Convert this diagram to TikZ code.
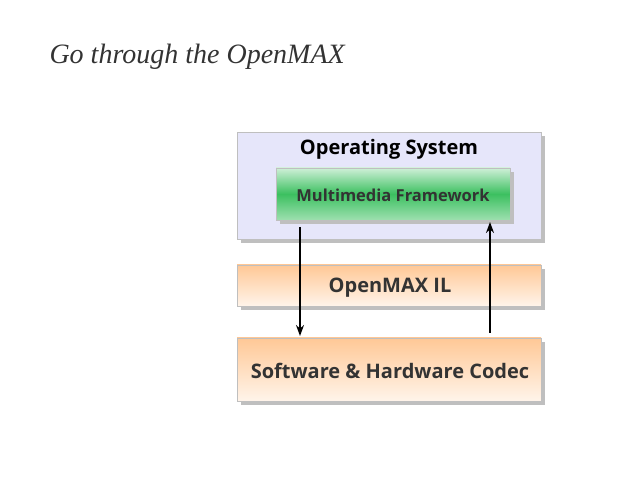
\documentclass[tikz,border=0pt]{standalone}
\usepackage{fontspec}
\setmainfont{Liberation Serif}
\newfontfamily\boxfont{Open Sans}
\usetikzlibrary{arrows.meta}
\definecolor{osfill}{HTML}{E6E6FA}
\definecolor{grn}{HTML}{3CC060}
\definecolor{org}{HTML}{FFC896}
\begin{document}
\begin{tikzpicture}[x=1pt,y=-1pt,
  box/.style={draw=black!25,line width=0.6pt},
  shadow/.style={fill=black!25,draw=none},
  lbl/.style={text=black!80},
  arr/.style={line width=1.6pt,-{Stealth[length=11pt,width=8pt]}}]
\useasboundingbox (0,0) rectangle (638,478);
\node[anchor=base west,font=\itshape\fontsize{28}{32}\selectfont,text=black!80] (title) at (46,64) {Go through the OpenMAX};
% OS
\fill[shadow] (241,136) rectangle (545,243);
\draw[box,fill=osfill] (237,132) rectangle (541,239);
\node[text=black,font=\boxfont\bfseries\fontsize{20}{22}\selectfont] (os) at (389,149) {Operating System};
% MF
\fill[shadow] (280,172) rectangle (514,224);
\shade[top color=grn!25,bottom color=grn!50,middle color=grn] (276,168) rectangle (510,220);
\draw[box] (276,168) rectangle (510,220);
\node[lbl,font=\boxfont\bfseries\fontsize{16.5}{18}\selectfont] (mf) at (393,195) {Multimedia Framework};
% OpenMAX IL
\fill[shadow] (241,269) rectangle (545,310);
\shade[top color=org,bottom color=org!20] (237,265) rectangle (541,306);
\draw[box] (237,265) rectangle (541,306);
\node[lbl,font=\boxfont\bfseries\fontsize{20}{22}\selectfont] (il) at (390,288) {OpenMAX IL};
% Codec
\fill[shadow] (241,342) rectangle (545,405);
\shade[top color=org,bottom color=org!20] (237,338) rectangle (541,401);
\draw[box] (237,338) rectangle (541,401);
\node[lbl,font=\boxfont\bfseries\fontsize{20}{22}\selectfont] (codec) at (390,371) {Software \& Hardware Codec};
% arrows
\coordinate (d1) at (300,227);
\coordinate (d2) at (300,336);
\coordinate (u1) at (490,333);
\coordinate (u2) at (490,222);
\draw[arr] (d1) -- (d2);
\draw[arr] (u1) -- (u2);
\end{tikzpicture}
\end{document}
